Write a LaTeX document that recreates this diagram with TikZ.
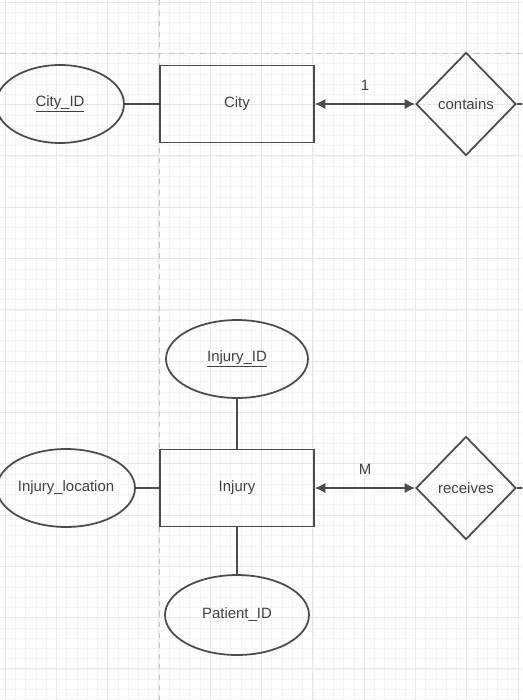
\documentclass[tikz,border=0pt]{standalone}
\usepackage{fontspec}
\setmainfont{Liberation Sans}
\usetikzlibrary{shapes.geometric,arrows.meta}
\begin{document}
\begin{tikzpicture}[x=0.02cm, y=-0.02cm,
  minorgrid/.style={gray!9, line width=0.3pt},
  majorgrid/.style={gray!18, line width=0.5pt},
  pagebreak/.style={gray!45, line width=0.5pt, dashed},
  erline/.style={black!70, line width=1pt},
  tip/.style={{Latex[length=6pt,width=6pt]}-{Latex[length=6pt,width=6pt]}},
  attr/.style={ellipse, draw=black!70, line width=1pt, inner sep=0pt, text=black!75, font=\fontsize{8.5}{10}\selectfont},
  entity/.style={rectangle, draw=black!70, line width=1pt, minimum width=3.08cm, minimum height=1.54cm, text=black!75, font=\fontsize{8.5}{10}\selectfont},
  relation/.style={diamond, aspect=1, draw=black!70, line width=1pt, inner sep=0pt, minimum width=2cm, minimum height=2.06cm, text=black!75, font=\fontsize{8.5}{10}\selectfont},
  card/.style={text=black!75, font=\fontsize{8.5}{10}\selectfont}]
\clip (0,0) rectangle (522,700);
\fill[white] (0,0) rectangle (522,700);

% grid of the canvas
\foreach \i in {-1,...,51} \draw[minorgrid] ({5+10.26*\i},0) -- ({5+10.26*\i},700);
\foreach \j in {0,...,68} \draw[minorgrid] (0,{2+10.26*\j}) -- (522,{2+10.26*\j});
\foreach \i in {0,...,10} \draw[majorgrid] ({5+51.3*\i},0) -- ({5+51.3*\i},700);
\foreach \j in {0,...,13} \draw[majorgrid] (0,{2+51.3*\j}) -- (522,{2+51.3*\j});
\draw[pagebreak] (159,0) -- (159,700);
\draw[pagebreak] (0,53) -- (522,53);

% City
\node[attr, minimum width=2.56cm, minimum height=1.56cm] (cityid) at (60,104) {\underline{City\_ID}};
\node[entity] (city) at (237,104) {City};
\node[relation] (contains) at (466,104) {contains};
\coordinate (containsout) at (530,104);
\draw[erline] (cityid) -- (city);
\draw[erline, tip] (city.east) -- node[card, midway, above=0.14cm] {1} (contains.west);
\draw[erline] (contains.east) -- (containsout);

% Injury
\node[attr, minimum width=2.84cm, minimum height=1.56cm] (injuryid) at (237,359) {\underline{Injury\_ID}};
\node[entity] (injury) at (237,488) {Injury};
\node[attr, minimum width=2.76cm, minimum height=1.56cm] (injloc) at (66,488) {Injury\_location};
\node[attr, minimum width=2.88cm, minimum height=1.6cm] (patientid) at (237,615) {Patient\_ID};
\node[relation] (receives) at (466,488) {receives};
\coordinate (receivesout) at (530,488);
\draw[erline] (injuryid) -- (injury);
\draw[erline] (injloc) -- (injury);
\draw[erline] (injury) -- (patientid);
\draw[erline, tip] (injury.east) -- node[card, midway, above=0.14cm] {M} (receives.west);
\draw[erline] (receives.east) -- (receivesout);
\end{tikzpicture}
\end{document}
